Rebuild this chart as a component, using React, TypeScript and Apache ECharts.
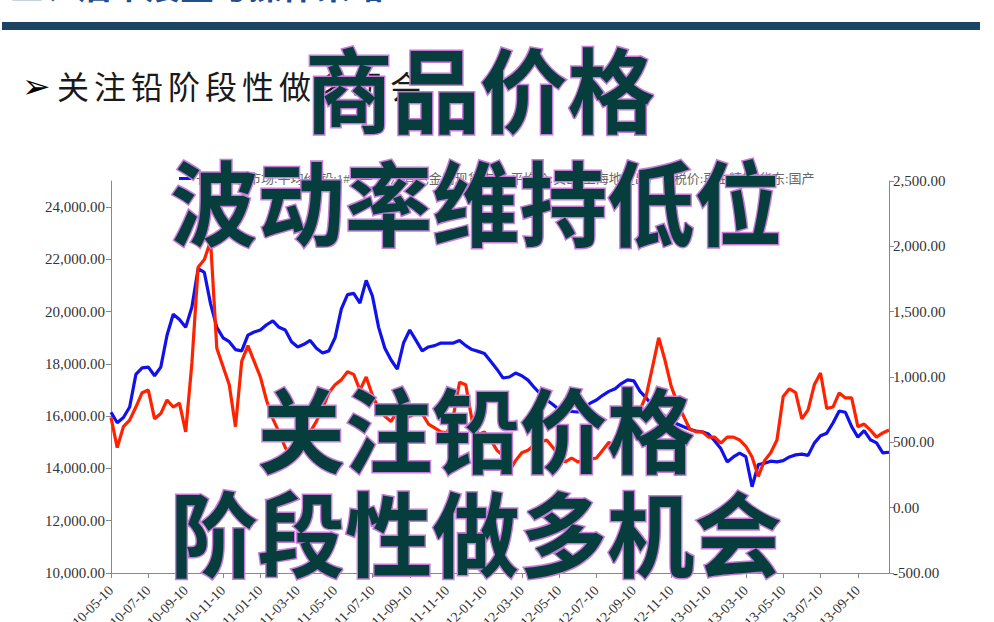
import React, { useEffect, useRef } from "react";
import * as echarts from "echarts";

// ---- data ----
const START_YEAR = 2010;
const START_MONTH = 5;
const MONTH_COUNT = 42;
const DAYS_IN_MONTH = [31, 28, 31, 30, 31, 30, 31, 31, 30, 31, 30, 31];

function buildDates(): string[] {
  const out: string[] = [];
  for (let k = 0; k < MONTH_COUNT; k++) {
    const m0 = START_MONTH - 1 + k;
    const y = START_YEAR + Math.floor(m0 / 12);
    const m = (m0 % 12) + 1;
    const mm = String(m).padStart(2, "0");
    const last = Math.min(30, DAYS_IN_MONTH[m - 1]);
    out.push(`${y}-${mm}-10`, `${y}-${mm}-20`, `${y}-${mm}-${last}`);
  }
  return out;
}
const CATEGORIES = buildDates();

const SERIES_BLUE_NAME = "长江有色市场:平均价:铅:1#";
const SERIES_RED_NAME = "长江有色金属现货市场:平均价:卖出:上海地区出厂含税价:再生精铅:华东:国产";

const BLUE_VALUES = [
  16150, 15750, 15950, 16350, 17600, 17850, 17880, 17550, 17880, 19100,
  19900, 19700, 19400, 20180, 21650, 21500, 20300, 19400, 19000, 18850,
  18550, 18500, 19100, 19220, 19300, 19500, 19650, 19400, 19300, 18850,
  18650, 18750, 18900, 18600, 18420, 18500, 19000, 20100, 20650, 20700,
  20330, 21200, 20600, 19400, 18600, 18150, 17800, 18800, 19300, 18900,
  18500, 18650, 18700, 18800, 18800, 18800, 18900, 18700, 18550, 18480,
  18400, 18100, 17800, 17460, 17500, 17650, 17550, 17380, 17100, 16850,
  16620, 16450, 16250, 16200, 16180, 16160, 16300, 16500, 16620, 16800,
  16950, 17050, 17250, 17390, 17350, 16950, 16700, 16400, 16200, 16000,
  15850, 15700, 15600, 15500, 15430, 15400, 15320, 15050, 14750, 14250,
  14440, 14590, 14450, 13300, 14150, 14200, 14280, 14250, 14300, 14440,
  14520, 14550, 14500, 14970, 15250, 15350, 15740, 16200, 16150, 15600,
  15200, 15450, 15100, 14980, 14600, 14620,
];

const RED_VALUES = [
  15950, 14800, 15600, 15850, 16350, 16900, 17000, 15900, 16100, 16620,
  16350, 16500, 15400, 18040, 21700, 22000, 22700, 18600, 17900, 17200,
  15600, 18100, 18700, 18100, 17500, 16600, 15900, 15400, 14800, 14350,
  14700, 15000, 15400, 15800, 16300, 16900, 17200, 17390, 17700, 17600,
  17000, 17500, 16800, 16300, 16000, 15800, 16200, 15900, 16000, 16100,
  16100, 15700, 15550, 15400, 15360, 16000, 17300, 17200, 15850, 15300,
  15400, 15090, 14700, 14500, 13900, 14300, 14600, 14700, 14900, 15000,
  15090, 14800, 14500, 14250, 14400, 14250, 14300, 14350, 14400, 14700,
  15000, 14800, 15500, 15850, 16100, 16250, 16800, 17880, 19000, 18150,
  17150, 16500, 16000, 15500, 15400, 15400, 15200, 15200, 14970, 15200,
  15200, 15090, 14850, 14440, 13700, 14300, 14600, 15090, 16750, 17050,
  16900, 15900, 16240, 17200, 17650, 16300, 16350, 16890, 16700, 16700,
  15600, 15700, 15470, 15200, 15360, 15470,
];

const LEFT_MIN = 10000;
const LEFT_MAX = 25000;
const LEFT_INTERVAL = 2000;
const RIGHT_MIN = -500;
const RIGHT_MAX = 2500;
const RIGHT_INTERVAL = 500;

const PAGE_TITLE = "三、后市展望与操作策略";
const SUBTITLE = "关注铅阶段性做多机会";
const OVERLAY_LINES = ["商品价格", "波动率维持低位", "关注铅价格", "阶段性做多机会"];

// ---- layout ----
const W = 994;
const H = 622;
const OVERLAY_POS = [
  { x: 480, y: 86 },
  { x: 476, y: 199 },
  { x: 476, y: 426 },
  { x: 476, y: 530 },
];

const fmt = (v: number) =>
  v.toLocaleString("en-US", { minimumFractionDigits: 2, maximumFractionDigits: 2 });

const LABEL_FONT = '"Liberation Serif", "Times New Roman", "Noto Sans CJK SC", serif';

export default function App() {
  const ref = useRef<HTMLDivElement>(null);
  useEffect(() => {
    if (!ref.current) return;
    const chart = echarts.init(ref.current, undefined, { renderer: "svg" });

    const graphics: any[] = [];
    // top blue title (cut off at the top edge)
    graphics.push({
      type: "text",
      x: 10,
      y: 1,
      z: 10,
      style: {
        text: PAGE_TITLE,
        fill: "#1f4f8f",
        font: 'bold 34px "Noto Sans CJK SC"',
        textVerticalAlign: "bottom",
      },
    });
    // navy bar
    graphics.push({
      type: "rect",
      shape: { x: 2, y: 22, width: 978, height: 8 },
      z: 10,
      style: { fill: "#1d4563" },
    });
    // subtitle arrow + text
    graphics.push({
      type: "text",
      x: 22,
      y: 86,
      z: 10,
      style: {
        text: "➢",
        fill: "#000",
        font: '34px "DejaVu Sans"',
        textVerticalAlign: "middle",
      },
    });
    SUBTITLE.split("").forEach((ch, i) => {
      graphics.push({
        type: "text",
        x: 57 + i * 37,
        y: 85,
        z: 10,
        style: {
          text: ch,
          fill: "#1a1a1a",
          font: '32px "Noto Sans CJK SC"',
          textVerticalAlign: "middle",
        },
      });
    });
    // overlay big captions
    OVERLAY_LINES.forEach((line, i) => {
      graphics.push({
        type: "text",
        x: OVERLAY_POS[i].x,
        y: OVERLAY_POS[i].y,
        scaleX: 0.95,
        z: 200,
        style: {
          text: line,
          fill: "#063d3d",
          stroke: "#c77ad8",
          lineWidth: 3,
          font: 'bold 92px "Noto Sans CJK SC"',
          textAlign: "center",
          textVerticalAlign: "middle",
          shadowColor: "rgba(0,0,0,0.45)",
          shadowOffsetX: 4,
          shadowOffsetY: 4,
          shadowBlur: 2,
        },
      });
    });

    chart.setOption({
      animation: false,
      backgroundColor: "#ffffff",
      grid: {
        left: 111,
        right: W - 889,
        top: 181,
        bottom: H - 573,
        containLabel: false,
        outerBoundsMode: "none",
      },
      legend: {
        left: 174,
        top: 167,
        itemWidth: 12,
        itemHeight: 3,
        itemGap: 10,
        icon: "rect",
        textStyle: { fontSize: 13, color: "#666", fontFamily: LABEL_FONT },
        data: [SERIES_BLUE_NAME, SERIES_RED_NAME],
      },
      xAxis: {
        type: "category",
        data: CATEGORIES,
        boundaryGap: false,
        axisLine: { show: true, onZero: false, lineStyle: { color: "#888", width: 1 } },
        axisTick: { show: true, interval: 5, length: 5, lineStyle: { color: "#888" } },
        axisLabel: {
          interval: 5,
          rotate: 45,
          margin: 15,
          fontSize: 14,
          color: "#333",
          fontFamily: LABEL_FONT,
        },
        splitLine: { show: false },
      },
      yAxis: [
        {
          type: "value",
          min: LEFT_MIN,
          max: LEFT_MAX,
          interval: LEFT_INTERVAL,
          position: "left",
          axisLine: { show: true, lineStyle: { color: "#888" } },
          axisTick: { show: true, length: 5, lineStyle: { color: "#888" } },
          axisLabel: {
            showMaxLabel: false,
            margin: 6,
            fontSize: 15,
            color: "#333",
            fontFamily: LABEL_FONT,
            formatter: (v: number) => fmt(v),
          },
          splitLine: { show: false },
        },
        {
          type: "value",
          min: RIGHT_MIN,
          max: RIGHT_MAX,
          interval: RIGHT_INTERVAL,
          position: "right",
          axisLine: { show: true, lineStyle: { color: "#888" } },
          axisTick: { show: true, length: 5, lineStyle: { color: "#888" } },
          axisLabel: {
            margin: 4,
            fontSize: 15,
            color: "#333",
            fontFamily: LABEL_FONT,
            formatter: (v: number) => fmt(v),
          },
          splitLine: { show: false },
        },
      ],
      series: [
        {
          name: SERIES_BLUE_NAME,
          type: "line",
          yAxisIndex: 0,
          data: BLUE_VALUES,
          symbol: "none",
          color: "#1111ee",
          lineStyle: { width: 3.2, color: "#1111ee" },
        },
        {
          name: SERIES_RED_NAME,
          type: "line",
          yAxisIndex: 0,
          data: RED_VALUES,
          symbol: "none",
          color: "#ff2200",
          lineStyle: { width: 3.2, color: "#ff2200" },
        },
      ],
      graphic: graphics,
    });

    return () => chart.dispose();
  }, []);

  return (
    <div
      ref={ref}
      style={{ position: "absolute", left: 0, top: 0, width: W, height: H, background: "#fff" }}
    />
  );
}
